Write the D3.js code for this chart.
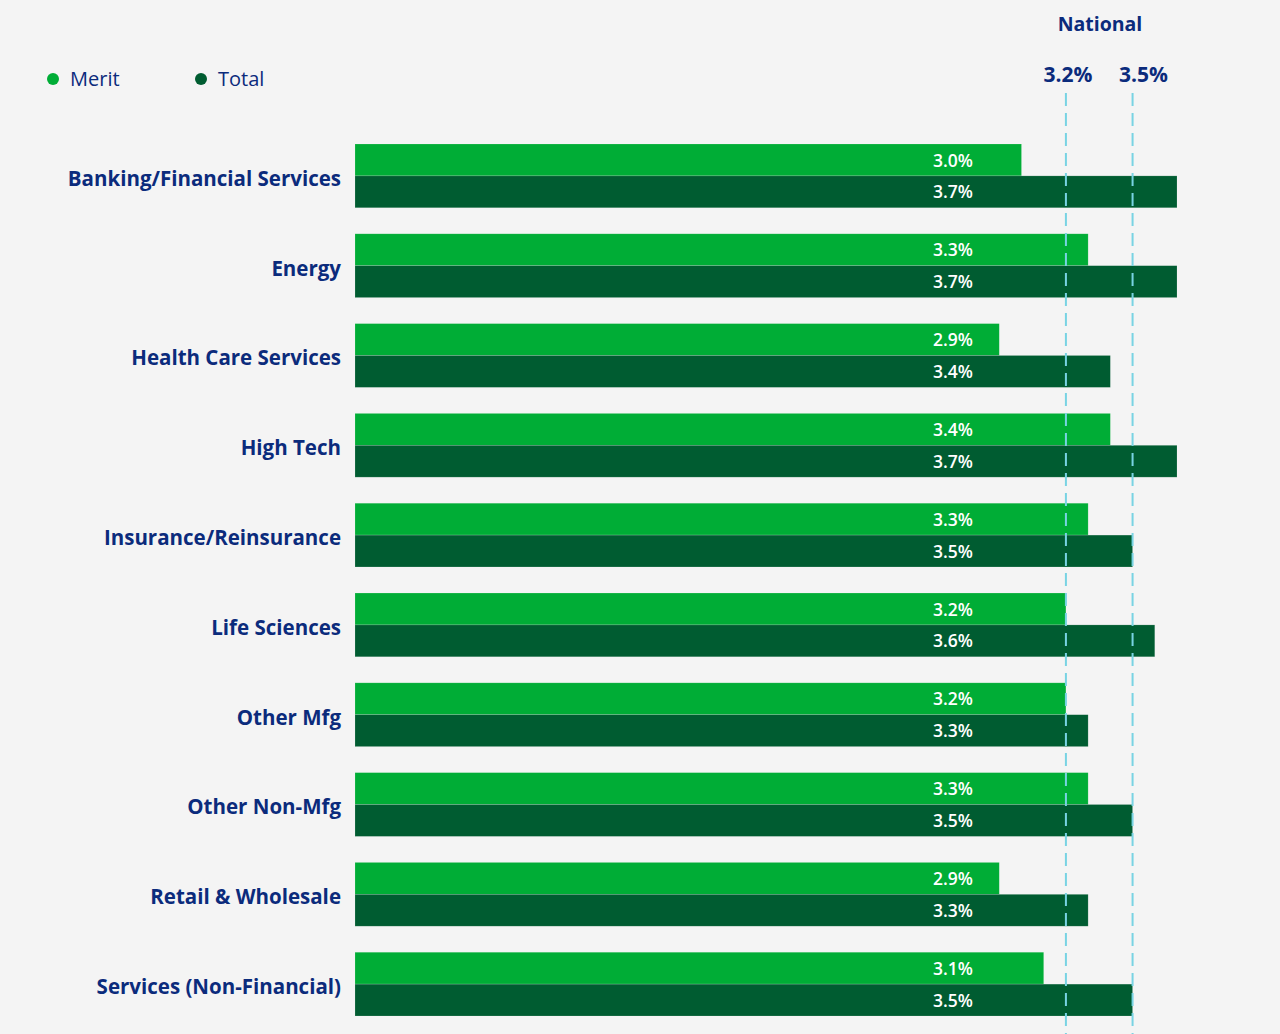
<!DOCTYPE html>
<html>
<head>
<meta charset="utf-8">
<script src="https://cdn.jsdelivr.net/npm/d3@7"></script>
<style>
  body { margin: 0; background: #f4f4f4; }
  svg { display: block; font-family: "Open Sans", "Noto Sans", sans-serif; }
</style>
</head>
<body>
<div id="chart"></div>
<script>
// Chart data
var categories = ["Banking/Financial Services", "Energy", "Health Care Services", "High Tech",
  "Insurance/Reinsurance", "Life Sciences", "Other Mfg", "Other Non-Mfg",
  "Retail & Wholesale", "Services (Non-Financial)"];
var merit = [3.0, 3.3, 2.9, 3.4, 3.3, 3.2, 3.2, 3.3, 2.9, 3.1];
var total = [3.7, 3.7, 3.4, 3.7, 3.5, 3.6, 3.3, 3.5, 3.3, 3.5];
var national = [3.2, 3.5];
var seriesNames = ["Merit", "Total"];

var colors = { Merit: "#00ad36", Total: "#005c31" };
var navy = "#0b2b7c";

var width = 1280, height = 1034;

var svg = d3.select("#chart")
  .append("svg")
    .attr("width", width)
    .attr("height", height);

svg.append("rect").attr("width", width).attr("height", height).attr("fill", "#f4f4f4");

// Scales
var x = d3.scaleLinear()
    .domain([0, 3.7])
    .range([355, 1177]);

var y = d3.scaleBand()
    .domain(categories)
    .range([144, 1016])
    .paddingInner(0.29)
    .paddingOuter(0);

var sub = d3.scaleBand()
    .domain(seriesNames)
    .range([0, y.bandwidth()]);

var rows = categories.map(function(c, i) {
  return { cat: c, Merit: merit[i], Total: total[i] };
});

// Bars
var groups = svg.selectAll(".row")
  .data(rows)
  .enter().append("g")
    .attr("class", "row")
    .attr("transform", function(d) { return "translate(0," + y(d.cat) + ")"; });

groups.selectAll("rect")
  .data(function(d) { return seriesNames.map(function(s) { return { key: s, value: d[s] }; }); })
  .enter().append("rect")
    .attr("x", x(0))
    .attr("y", function(d) { return sub(d.key); })
    .attr("width", function(d) { return x(d.value) - x(0); })
    .attr("height", sub.bandwidth())
    .attr("fill", function(d) { return colors[d.key]; })
    .attr("stroke", "rgba(255,255,255,0.25)")
    .attr("stroke-width", 0.6);

groups.selectAll("text.val")
  .data(function(d) { return seriesNames.map(function(s) { return { key: s, value: d[s] }; }); })
  .enter().append("text")
    .attr("class", "val")
    .attr("x", 953)
    .attr("y", function(d) { return sub(d.key) + sub.bandwidth() / 2; })
    .attr("dy", "0.38em")
    .attr("text-anchor", "middle")
    .attr("fill", "#ffffff")
    .style("font-size", "17.5px")
    .style("font-weight", 600)
    .text(function(d) { return d.value.toFixed(1) + "%"; });

// Category labels
svg.selectAll(".cat")
  .data(categories)
  .enter().append("text")
    .attr("class", "cat")
    .attr("x", 341)
    .attr("y", function(d) { return y(d) + y.bandwidth() / 2; })
    .attr("dy", "0.48em")
    .attr("text-anchor", "end")
    .attr("fill", navy)
    .style("font-size", "20.5px")
    .style("font-weight", 700)
    .text(function(d) { return d; });

// National reference lines
svg.selectAll(".nat")
  .data(national)
  .enter().append("line")
    .attr("class", "nat")
    .attr("x1", function(d) { return x(d); })
    .attr("x2", function(d) { return x(d); })
    .attr("y1", 93)
    .attr("y2", height)
    .attr("stroke", "#78d3e3")
    .attr("stroke-width", 2)
    .attr("stroke-dasharray", "13,7");

svg.selectAll(".natlabel")
  .data(national)
  .enter().append("text")
    .attr("class", "natlabel")
    .attr("x", function(d, i) { return x(d) + (i === 0 ? 2 : 11); })
    .attr("y", 75)
    .attr("dy", "0.35em")
    .attr("text-anchor", "middle")
    .attr("fill", navy)
    .style("font-size", "21px")
    .style("font-weight", 700)
    .text(function(d) { return d.toFixed(1) + "%"; });

svg.append("text")
  .attr("x", 1100)
  .attr("y", 24)
  .attr("dy", "0.35em")
  .attr("text-anchor", "middle")
  .attr("fill", navy)
  .style("font-size", "19.5px")
  .style("font-weight", 700)
  .text("National");

// Legend
var legend = svg.selectAll(".legend")
  .data(seriesNames)
  .enter().append("g")
    .attr("class", "legend")
    .attr("transform", function(d, i) { return "translate(" + (53 + i * 148) + ",79)"; });

legend.append("circle")
  .attr("r", 6)
  .attr("fill", function(d) { return colors[d]; });

legend.append("text")
  .attr("x", 17)
  .attr("dy", "0.35em")
  .attr("fill", navy)
  .style("font-size", "20px")
  .text(function(d) { return d; });
</script>
</body>
</html>
